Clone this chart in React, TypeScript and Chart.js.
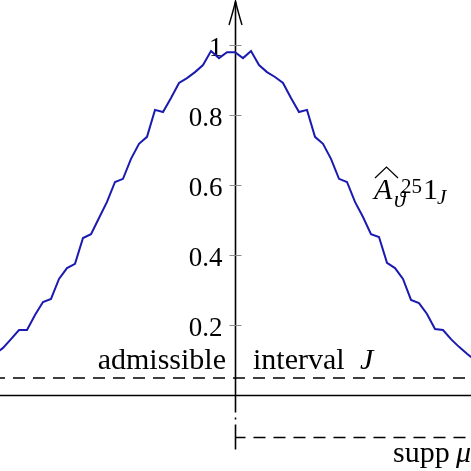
import { useEffect, useRef } from "react"
import { Chart, registerables } from "chart.js"

Chart.register(...registerables)

// sample positions (grid steps) and values of the iterated function
const xs = [
  -31, -30, -29, -28, -27, -26, -25, -24, -23, -22, -21, -20, -19, -18, -17, -16,
  -15, -14, -13, -12, -11, -10, -9, -8, -7, -6, -5, -4, -3, -2, -1, 0,
  1, 2, 3, 4, 5, 6, 7, 8, 9, 10, 11, 12, 13, 14, 15, 16,
  17, 18, 19, 20, 21, 22, 23, 24, 25, 26, 27, 28, 29, 30,
]
const ys = [
  0.101, 0.118, 0.136, 0.161, 0.187, 0.187, 0.23, 0.267, 0.276, 0.333, 0.364, 0.376, 0.45, 0.461, 0.507, 0.553,
  0.61, 0.619, 0.676, 0.719, 0.739, 0.816, 0.81, 0.85, 0.893, 0.907, 0.924, 0.944, 0.984, 0.964, 0.981, 0.981,
  0.964, 0.984, 0.944, 0.924, 0.91, 0.893, 0.85, 0.81, 0.816, 0.739, 0.719, 0.676, 0.619, 0.61, 0.553, 0.51,
  0.461, 0.453, 0.379, 0.364, 0.333, 0.273, 0.264, 0.233, 0.19, 0.187, 0.161, 0.139, 0.119, 0.101,
]
const yTicks = [0.2, 0.4, 0.6, 0.8, 1]
const tickLabels = ["0.2", "0.4", "0.6", "0.8", "1"]
const admissibleLevel = 0.05
const suppLevel = -0.12

const SERIF = "'Liberation Serif', 'DejaVu Serif', serif"

const decorations = {
  id: "decorations",
  beforeDatasetsDraw(chart: any) {
    const { ctx, scales } = chart
    const xs_ = scales.x
    const ys_ = scales.y
    const ax = Math.round(xs_.getPixelForValue(0)) + 0.5
    const y0 = ys_.getPixelForValue(0)
    const yAdm = ys_.getPixelForValue(admissibleLevel)
    const ySupp = ys_.getPixelForValue(suppLevel)
    const W = chart.width

    ctx.save()
    ctx.strokeStyle = "#000"

    // dashed admissible line
    ctx.lineWidth = 1.4
    ctx.setLineDash([12, 8])
    ctx.lineDashOffset = 7
    ctx.beginPath()
    ctx.moveTo(0, yAdm)
    ctx.lineTo(W, yAdm)
    ctx.stroke()

    // dashed supp line
    ctx.lineDashOffset = 2
    ctx.beginPath()
    ctx.moveTo(ax, ySupp)
    ctx.lineTo(W, ySupp)
    ctx.stroke()
    ctx.setLineDash([])

    // x axis
    ctx.lineWidth = 1.6
    ctx.beginPath()
    ctx.moveTo(0, y0)
    ctx.lineTo(W, y0)
    ctx.stroke()

    // y axis
    ctx.beginPath()
    ctx.moveTo(ax, 2)
    ctx.lineTo(ax, y0 + 17)
    ctx.stroke()
    ctx.beginPath()
    ctx.moveTo(ax, y0 + 22)
    ctx.lineTo(ax, y0 + 24)
    ctx.stroke()
    ctx.beginPath()
    ctx.moveTo(ax, y0 + 29)
    ctx.lineTo(ax, y0 + 54)
    ctx.stroke()

    // arrow head
    ctx.lineWidth = 1.4
    ctx.beginPath()
    ctx.moveTo(ax - 6.5, 25)
    ctx.quadraticCurveTo(ax - 2, 10, ax, 1)
    ctx.quadraticCurveTo(ax + 2, 10, ax + 6.5, 25)
    ctx.stroke()

    // ticks
    ctx.strokeStyle = "#8c8c8c"
    ctx.lineWidth = 1
    ctx.fillStyle = "#000"
    ctx.font = `27px ${SERIF}`
    ctx.textAlign = "right"
    ctx.textBaseline = "alphabetic"
    yTicks.forEach((t, i) => {
      const py = ys_.getPixelForValue(t)
      ctx.beginPath()
      ctx.moveTo(ax - 6, py)
      ctx.lineTo(ax + 6, py)
      ctx.stroke()
      ctx.fillText(tickLabels[i], ax - 13, py + 10)
    })
    ctx.restore()
  },
  afterDatasetsDraw(chart: any) {
    const { ctx } = chart
    ctx.save()
    ctx.fillStyle = "#000"
    ctx.textBaseline = "alphabetic"

    ctx.font = `30px ${SERIF}`
    ctx.textAlign = "right"
    ctx.fillText("admissible", 226, 369)
    ctx.textAlign = "left"
    ctx.fillText("interval", 253, 369)
    ctx.font = `italic 30px ${SERIF}`
    ctx.fillText("J", 360, 369)

    ctx.font = `30px ${SERIF}`
    ctx.fillText("supp", 393, 462)
    ctx.font = `italic 30px ${SERIF}`
    ctx.fillText("μ", 456, 462)

    // \widehat{A}_\vartheta^{25} 1_J
    ctx.font = `italic 30px ${SERIF}`
    ctx.fillText("A", 374, 199)
    ctx.strokeStyle = "#000"
    ctx.lineWidth = 1.2
    ctx.beginPath()
    ctx.moveTo(375, 178)
    ctx.lineTo(386.5, 167)
    ctx.lineTo(398, 178)
    ctx.stroke()
    ctx.font = `21px ${SERIF}`
    ctx.fillText("25", 401, 193)
    ctx.font = `italic 23px ${SERIF}`
    ctx.fillText("ϑ", 394, 207)
    ctx.font = `30px ${SERIF}`
    ctx.fillText("1", 423, 199)
    ctx.font = `italic 21px ${SERIF}`
    ctx.fillText("J", 437, 204)
    ctx.restore()
  },
}

export default function App() {
  const chartRef = useRef<HTMLCanvasElement>(null)
  const chartInstance = useRef<Chart | null>(null)

  useEffect(() => {
    if (!chartRef.current) return
    if (chartInstance.current) chartInstance.current.destroy()
    const ctx = chartRef.current.getContext("2d")
    if (!ctx) return

    chartInstance.current = new Chart(ctx, {
      type: "line",
      data: {
        datasets: [
          {
            data: xs.map((x, i) => ({ x, y: ys[i] })),
            borderColor: "#1a1ab0",
            borderWidth: 2,
            pointRadius: 0,
            tension: 0,
            fill: false,
          },
        ],
      },
      options: {
        animation: false,
        responsive: true,
        maintainAspectRatio: false,
        layout: { padding: 0 },
        scales: {
          x: { type: "linear", display: false, min: -29.375, max: 29.5 },
          y: { type: "linear", display: false, min: -0.2157, max: 1.13 },
        },
        plugins: {
          legend: { display: false },
          tooltip: { enabled: false },
        },
      },
      plugins: [decorations],
    })

    return () => {
      if (chartInstance.current) {
        chartInstance.current.destroy()
        chartInstance.current = null
      }
    }
  }, [])

  return (
    <div style={{ position: "fixed", left: 0, top: 0, width: 471, height: 471, background: "#fff" }}>
      <canvas ref={chartRef}></canvas>
    </div>
  )
}
